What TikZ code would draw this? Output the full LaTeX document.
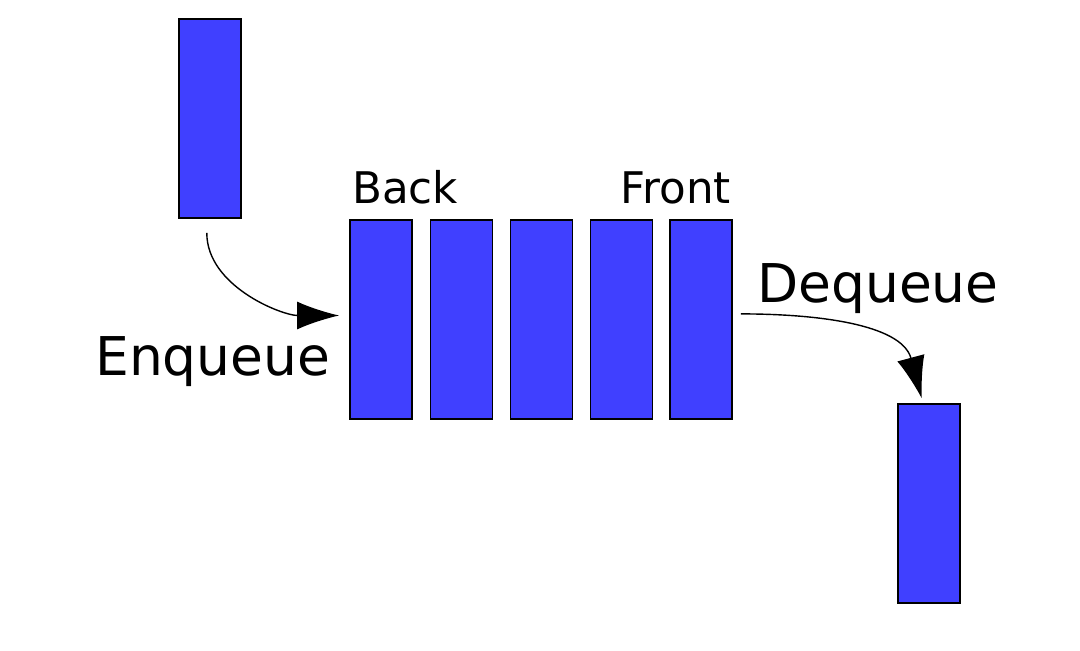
\documentclass[tikz,border=0pt]{standalone}
\usepackage{fontspec}
\setmainfont{DejaVu Sans}
\usetikzlibrary{arrows.meta}
\definecolor{item}{HTML}{4040FF}
\definecolor{ink}{HTML}{000000}

\begin{document}
\begin{tikzpicture}[
  x=0.025cm, y=-0.025cm,
  text=ink,
  slot/.style={draw=ink, fill=item, line width=1.3pt,
    minimum width=1.55cm, minimum height=4.975cm, inner sep=0pt},
  arrow/.style={-{Latex[length=1.05cm, width=0.7cm]}, draw=ink, line width=1pt},
  label/.style={inner sep=0pt, font=\fontsize{38}{40}\selectfont},
  tag/.style={inner sep=0pt, font=\fontsize{31}{33}\selectfont}
]
  \useasboundingbox (0,0) rectangle (1080,651);

  \node[slot] (incoming) at (210,118.5) {};

  \node[slot] (q1) at (381,319.5) {};
  \node[slot] (q2) at (461.5,319.5) {};
  \node[slot] (q3) at (541.5,319.5) {};
  \node[slot] (q4) at (621.5,319.5) {};
  \node[slot] (q5) at (701,319.5) {};

  \node[slot] (outgoing) at (929,503.5) {};

  \node[tag, anchor=base west] (back) at (352,203) {Back};
  \node[tag, anchor=base east] (front) at (731,203) {Front};
  \node[label, anchor=base west] (enq) at (95,375) {Enqueue};
  \node[label, anchor=base west] (deq) at (757,302) {Dequeue};

  \draw[arrow, shorten <=0.35cm, shorten >=0.25cm]
    ([xshift=-0.08cm]incoming.south) to[out=-90, in=180] ([yshift=0.1cm]q1.west);
  \draw[arrow, shorten <=0.2cm, shorten >=0.12cm]
    ([yshift=0.14cm]q5.east) to[out=0, in=105] ([xshift=-0.15cm]outgoing.north);
\end{tikzpicture}
\end{document}
